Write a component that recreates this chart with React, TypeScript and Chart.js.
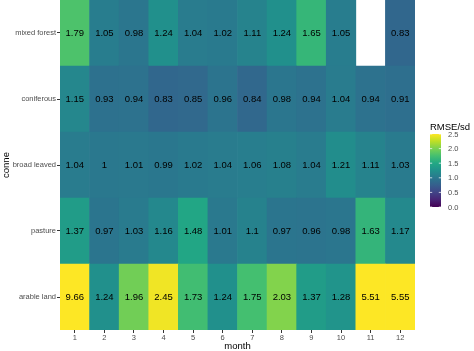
import React, { useEffect, useRef } from "react";
import { Chart, registerables } from "chart.js";

Chart.register(...registerables);

const months = ["1", "2", "3", "4", "5", "6", "7", "8", "9", "10", "11", "12"];
// rows listed bottom to top (stack order)
const rowNames = ["arable land", "pasture", "broad leaved", "coniferous", "mixed forest"];
const arableLand = [9.66, 1.24, 1.96, 2.45, 1.73, 1.24, 1.75, 2.03, 1.37, 1.28, 5.51, 5.55];
const pasture = [1.37, 0.97, 1.03, 1.16, 1.48, 1.01, 1.1, 0.97, 0.96, 0.98, 1.63, 1.17];
const broadLeaved = [1.04, 1, 1.01, 0.99, 1.02, 1.04, 1.06, 1.08, 1.04, 1.21, 1.11, 1.03];
const coniferous = [1.15, 0.93, 0.94, 0.83, 0.85, 0.96, 0.84, 0.98, 0.94, 1.04, 0.94, 0.91];
const mixedForest = [1.79, 1.05, 0.98, 1.24, 1.04, 1.02, 1.11, 1.24, 1.65, 1.05, null, 0.83];
const rowValues: (number | null)[][] = [arableLand, pasture, broadLeaved, coniferous, mixedForest];
const legendTicks = [0, 0.5, 1, 1.5, 2, 2.5];
const limitMin = 0;
const limitMax = 2.5;

const FONT = "'Liberation Sans', Arial, Helvetica, sans-serif";

const viridis = [
  "#440154", "#482475", "#414487", "#355f8d", "#2a788e",
  "#21918c", "#22a884", "#44bf70", "#7ad151", "#bddf26", "#fde725",
];

function hexToRgb(h: string) {
  return [parseInt(h.slice(1, 3), 16), parseInt(h.slice(3, 5), 16), parseInt(h.slice(5, 7), 16)];
}

function colorFor(v: number | null): string {
  if (v == null) return "rgba(0,0,0,0)";
  let t = (v - limitMin) / (limitMax - limitMin);
  t = Math.max(0, Math.min(1, t));
  const p = t * (viridis.length - 1);
  const i = Math.min(Math.floor(p), viridis.length - 2);
  const f = p - i;
  const a = hexToRgb(viridis[i]);
  const b = hexToRgb(viridis[i + 1]);
  const c = a.map((x, k) => Math.round(x + (b[k] - x) * f));
  return `rgb(${c[0]},${c[1]},${c[2]})`;
}

const overlayPlugin = {
  id: "overlay",
  afterDatasetsDraw(chart: any) {
    const ctx = chart.ctx;
    ctx.save();
    ctx.fillStyle = "#000";
    ctx.font = `9.5px ${FONT}`;
    ctx.textAlign = "center";
    ctx.textBaseline = "middle";
    rowValues.forEach((row, i) => {
      const meta = chart.getDatasetMeta(i);
      meta.data.forEach((bar: any, j: number) => {
        const v = row[j];
        if (v == null) return;
        const p = bar.getProps(["x", "y", "base"], true);
        ctx.fillText(String(v), p.x, (p.y + p.base) / 2 + 0.5);
      });
    });
    ctx.restore();
  },
  afterDraw(chart: any) {
    const ctx = chart.ctx;
    const bx = 430, bw = 11, top = 134, bottom = 207;
    ctx.save();
    const g = ctx.createLinearGradient(0, bottom, 0, top);
    viridis.forEach((c, i) => g.addColorStop(i / (viridis.length - 1), c));
    ctx.fillStyle = g;
    ctx.fillRect(bx, top, bw, bottom - top);
    ctx.font = `9.5px ${FONT}`;
    ctx.fillStyle = "#000";
    ctx.textAlign = "left";
    ctx.textBaseline = "alphabetic";
    ctx.fillText("RMSE/sd", bx, 130);
    ctx.font = `7.5px ${FONT}`;
    ctx.fillStyle = "#4d4d4d";
    ctx.textBaseline = "middle";
    legendTicks.forEach((v) => {
      const y = bottom - ((v - limitMin) / (limitMax - limitMin)) * (bottom - top);
      ctx.strokeStyle = "rgba(255,255,255,0.9)";
      ctx.lineWidth = 0.8;
      ctx.beginPath();
      ctx.moveTo(bx, y);
      ctx.lineTo(bx + 2.2, y);
      ctx.moveTo(bx + bw - 2.2, y);
      ctx.lineTo(bx + bw, y);
      ctx.stroke();
      ctx.fillText(v.toFixed(1), bx + bw + 7, y + 0.5);
    });
    ctx.restore();
  },
};

export default function App() {
  const ref = useRef<HTMLCanvasElement | null>(null);
  useEffect(() => {
    document.body.style.margin = "0";
    const canvas = ref.current!;
    Chart.defaults.font.family = FONT;
    const chart = new Chart(canvas, {
      type: "bar",
      data: {
        labels: months,
        datasets: rowValues.map((row, i) => ({
          label: rowNames[i],
          data: row.map((v) => (v == null ? null : 1)) as any,
          backgroundColor: row.map(colorFor),
          borderWidth: 0,
          barPercentage: 1,
          categoryPercentage: 1,
        })),
      },
      options: {
        animation: false,
        responsive: false,
        events: [],
        layout: { padding: { top: 0, right: 59, bottom: 0, left: 0 } },
        plugins: { legend: { display: false }, tooltip: { enabled: false } },
        scales: {
          x: {
            stacked: true,
            grid: { drawOnChartArea: false, drawTicks: true, tickLength: 3, color: "#333333", offset: false },
            border: { display: false },
            ticks: { color: "#4d4d4d", font: { size: 7.5 }, padding: 0, maxRotation: 0, autoSkip: false },
            title: { display: true, text: "month", color: "#000", font: { size: 9.5, lineHeight: 1 }, padding: { top: 0, bottom: 0 } },
            afterFit: (s: any) => {
              s.height = 21;
              s.paddingLeft = 0;
              s.paddingRight = 0;
            },
          },
          y: {
            stacked: true,
            min: 0,
            max: 5,
            afterBuildTicks: (s: any) => {
              s.ticks = rowNames.map((_, i) => ({ value: i + 0.5 }));
            },
            grid: { drawOnChartArea: false, drawTicks: true, tickLength: 3, color: "#333333" },
            border: { display: false },
            ticks: {
              color: "#4d4d4d",
              font: { size: 7.5 },
              padding: 1,
              autoSkip: false,
              callback: (v: any) => rowNames[Math.floor(Number(v))],
            },
            title: { display: true, text: "conne", color: "#000", font: { size: 9.5 }, padding: { top: 1, bottom: 0 } },
            afterFit: (s: any) => {
              s.width = 60;
              s.paddingTop = 0;
              s.paddingBottom = 0;
            },
          },
        },
      },
      plugins: [overlayPlugin],
    });
    return () => chart.destroy();
  }, []);
  return <canvas ref={ref} width={474} height={351} style={{ display: "block" }} />;
}
